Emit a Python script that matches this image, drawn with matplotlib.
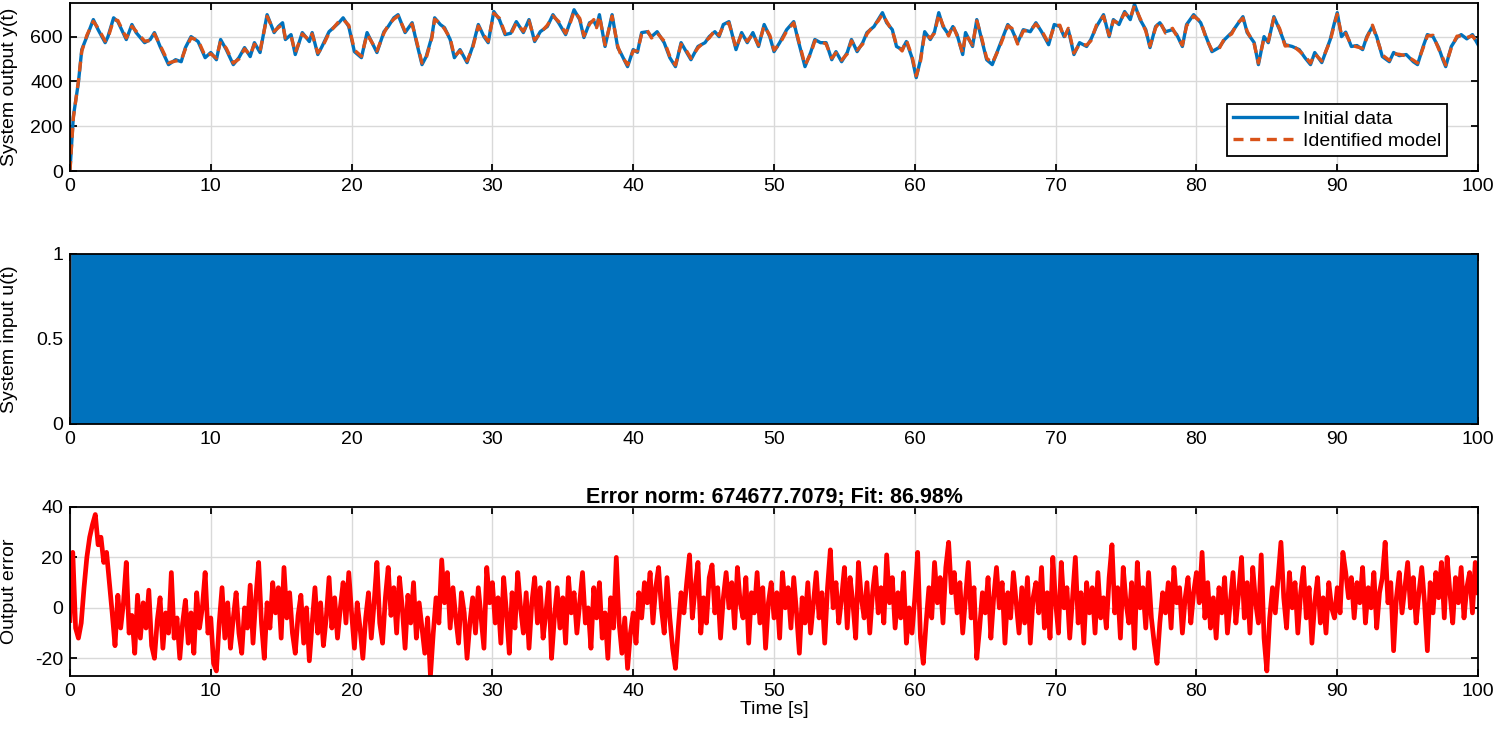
import numpy as np
import matplotlib.pyplot as plt
from matplotlib.ticker import FuncFormatter

plt.rcParams["font.family"] = ["Liberation Sans", "DejaVu Sans"]
plt.rcParams["font.size"] = 14
plt.rcParams["axes.unicode_minus"] = False

# ---- data ------------------------------------------------------------------
# output y(t): times [s] and values
t_y = [0.0, 0.24, 0.6, 0.84, 1.2, 1.66, 2.0, 2.5, 2.7, 3.1, 3.4, 4.0, 4.4, 4.7,
       5.3, 5.7, 6.0, 6.4, 7.0, 7.5, 7.9, 8.2, 8.6, 9.1, 9.6, 10.0, 10.4, 10.7,
       11.1, 11.6, 12.0, 12.4, 12.8, 13.1, 13.5, 14.0, 14.5, 14.8, 15.1, 15.3,
       15.7, 16.0, 16.5, 17.0, 17.2, 17.6, 17.9, 18.4, 19.1, 19.4, 19.8, 20.2,
       20.7, 21.1, 21.8, 22.3, 22.6, 23.0, 23.3, 23.8, 24.3, 24.6, 25.0, 25.3,
       25.7, 25.9, 26.3, 26.6, 27.0, 27.3, 27.7, 28.2, 28.6, 29.0, 29.4, 29.7,
       30.1, 30.5, 30.9, 31.3, 31.7, 32.2, 32.6, 33.0, 33.4, 33.9, 34.3, 34.7,
       35.2, 35.5, 35.8, 36.2, 36.5, 36.9, 37.2, 37.4, 37.6, 38.0, 38.5, 38.9,
       39.1, 39.6, 40.0, 40.3, 40.6, 41.0, 41.3, 41.7, 42.2, 42.6, 43.0, 43.4,
       43.8, 44.1, 44.6, 45.1, 45.4, 45.8, 46.1, 46.4, 46.8, 47.3, 47.7, 48.1,
       48.5, 48.9, 49.3, 49.7, 50.0, 50.4, 50.9, 51.4, 51.7, 52.2, 52.6, 52.9,
       53.3, 53.7, 54.1, 54.4, 54.8, 55.2, 55.5, 55.9, 56.3, 56.6, 57.1, 57.4,
       57.7, 58.0, 58.4, 58.7, 59.1, 59.4, 59.8, 60.1, 60.4, 60.7, 61.1, 61.4,
       61.7, 62.0, 62.4, 62.7, 63.0, 63.4, 63.6, 64.1, 64.4, 64.7, 65.1, 65.5,
       66.0, 66.6, 66.9, 67.3, 67.7, 68.2, 68.6, 69.0, 69.5, 69.9, 70.3, 70.6,
       70.9, 71.3, 71.7, 72.2, 72.5, 72.9, 73.4, 73.8, 74.1, 74.5, 74.9, 75.3,
       75.6, 76.0, 76.4, 76.7, 77.1, 77.4, 77.8, 78.3, 78.6, 79.0, 79.3, 79.8,
       80.3, 80.7, 81.1, 81.6, 82.0, 82.5, 82.9, 83.3, 83.6, 84.1, 84.4, 84.8,
       85.1, 85.5, 85.9, 86.3, 86.8, 87.3, 87.7, 88.1, 88.4, 88.9, 89.5, 89.8,
       90.0, 90.3, 90.6, 91.0, 91.4, 91.8, 92.1, 92.5, 92.8, 93.2, 93.7, 94.0,
       94.4, 94.9, 95.4, 95.7, 96.1, 96.4, 96.8, 97.2, 97.5, 97.7, 98.1, 98.5,
       98.8, 99.2, 99.6, 100.0]
y_data = [0, 243, 395, 542, 600, 676, 631, 573, 600, 684, 667, 587, 654, 618,
          573, 587, 618, 556, 475, 497, 488, 551, 600, 578, 506, 529, 497, 587,
          542, 475, 506, 551, 511, 573, 529, 698, 618, 645, 662, 587,
          609, 520, 618, 578, 618, 520, 556, 622, 662, 684, 645, 533,
          506, 618, 529, 622, 645, 684, 698, 618, 662, 578, 475, 511,
          600, 684, 654, 640, 587, 506, 542, 484, 556, 654, 600, 573,
          712, 676, 609, 615, 667, 618, 676, 578, 622, 645, 698, 662,
          609, 662, 720, 676, 596, 662, 670, 645, 698, 556, 698, 551,
          529, 466, 542, 530, 618, 622, 600, 622, 573, 506, 466, 573,
          529, 497, 556, 573, 600, 622, 600, 654, 667, 542, 618, 573,
          618, 556, 654, 600, 533, 573, 631, 667, 587, 466, 529, 587,
          573, 573, 497, 533, 488, 529, 587, 533, 573, 618, 645, 676,
          707, 662, 631, 556, 542, 578, 506, 417, 497, 622, 587, 622,
          707, 645, 609, 645, 609, 520, 618, 556, 676, 600, 497, 475,
          556, 654, 631, 573, 631, 622, 662, 622, 564, 654, 645, 600,
          631, 520, 573, 556, 587, 645, 698, 600, 676, 654, 712, 676,
          745, 676, 631, 551, 645, 662, 622, 631, 609, 556, 654, 698,
          662, 596, 533, 551, 587, 618, 654, 689, 618, 573, 475, 600,
          573, 689, 631, 564, 556, 542, 506, 475, 529, 484, 587, 662,
          707, 600, 620, 556, 560, 542, 600, 645, 600, 511, 488, 529,
          515, 520, 488, 475, 556, 609, 600, 551, 497, 466, 556, 596,
          609, 590, 609, 564]
y_model = [0, 236, 402, 535, 606, 668, 638, 580, 594, 676, 672, 594, 646, 624,
           580, 582, 612, 562, 483, 491, 494, 545, 594, 584, 513, 523, 504, 580,
           548, 482, 500, 545, 518, 566, 536, 690, 624, 640, 655, 594,
           603, 528, 612, 584, 612, 527, 550, 616, 668, 677, 651, 540,
           512, 611, 536, 616, 651, 678, 692, 624, 656, 584, 482, 505,
           594, 677, 660, 634, 593, 513, 536, 491, 550, 647, 606, 579,
           704, 682, 615, 610, 661, 624, 670, 584, 616, 651, 692, 668,
           615, 656, 713, 682, 603, 656, 676, 640, 692, 563, 691, 558,
           523, 474, 536, 536, 611, 628, 594, 616, 580, 512, 473, 566,
           535, 503, 550, 579, 594, 628, 606, 648, 661, 549, 612, 579,
           612, 562, 648, 606, 540, 567, 625, 661, 594, 473, 523, 581,
           579, 567, 504, 527, 495, 523, 581, 540, 567, 612, 651, 670,
           700, 668, 625, 563, 536, 584, 513, 425, 490, 615, 593, 616,
           700, 651, 603, 651, 603, 527, 612, 562, 670, 606, 504, 482,
           550, 648, 637, 567, 625, 628, 656, 628, 570, 648, 651, 594,
           637, 527, 567, 562, 581, 651, 691, 606, 670, 660, 705, 682,
           738, 682, 625, 558, 639, 668, 616, 637, 603, 562, 648, 691,
           668, 590, 540, 545, 593, 612, 660, 682, 624, 567, 482, 594,
           579, 683, 637, 558, 562, 536, 513, 482, 523, 491, 581, 656,
           700, 606, 614, 562, 554, 548, 594, 651, 594, 518, 494, 523,
           521, 514, 495, 482, 550, 603, 606, 545, 504, 473, 550, 602,
           603, 596, 603, 570]

# input u(t): binary excitation, one bit per sample
u_bits = (
    "0110100110010110100101100110100110010110011010010110100110010110"
    "1001011001101001011010011001011001101001100101101001011001101001"
    "1001011001101001011010011001011001101001100101101001011001101001"
    "0110100110010110100101100110100110010110011010010110100110010110"
    "1001011001101001011010011001011001101001100101101001011001101001"
    "0110100110010110100101100110100110010110011010010110100110010110"
    "0110100110010110100101100110100110010110011010010110100110010110"
    "1001011001101001011010011001011001101001100101101001011001101001"
    "1001011001101001011010011001011001101001100101101001011001101001"
    "0110100110010110100101100110100110010110011010010110100110010110"
    "0110100110010110100101100110100110010110011010010110100110010110"
    "1001011001101001011010011001011001101001100101101001011001101001"
    "0110100110010110100101100110100110010110011010010110100110010110"
    "1001011001101001011010011001011001101001100101101001011001101001"
    "1001011001101001011010011001011001101001100101101001011001101001"
    "0110100110010110100101100110100110010110011010010110100110010110"
)

# output error, sampled every 0.2 s
err_dt = 0.2
err = [
    -5, 22, -8, -12, -6, 8, 20, 28, 33, 37, 25, 28, 18, 22, 10, -2, -15, 5, -8, 2,
    18, -10, -3, -18, 5, -12, 2, -8, 7, -15, -20, -5, 4, -16, -2, -10, 14, -12, -4, -20,
    -6, 3, -14, -2, -18, 6, -8, 0, 14, -10,
    -4, -22, -25, -6, 8, -12, 2, -16, -4, 6, -10, -18, 0, -8, 9, -14, 4, 18, -6, -20,
    2, -8, 10, -2, 8, -12, 16, -4, 6, -10, -18, -3, 5, -14, 0, -21, -6, 8, -10, 2,
    -15, -4, 12, -8, 4, -12, 0, 10, -6, 14,
    -2, -16, 2, -8, -20, -4, 6, -12, 2, 18, -6, -14, 4, 16, -3, 8, -10, 12, 0, -16,
    5, -6, 10, -12, 2, -8, -18, -4, -27, -10, 4, -6, 19, 2, 14, -8, 8, -4, -14, 6,
    -2, -20, -6, 4, -10, 8, -4, -16, 16, 2,
    10, -6, 4, -14, 12, -2, -18, 6, -8, 14, 0, -10, 6, -16, 2, 12, -6, 8, -12, -2,
    10, -20, -4, 8, -8, 4, -14, 12, -2, 6, -10, 2, 14, -6, 0, -16, 8, -4, 10, -12,
    -2, -20, 4, -8, 20, -6, -18, -4, -24, -10,
    -2, -14, 6, -4, 10, 2, 14, -6, 8, 16, 0, -10, 12, -4, -16, -24, -8, 6, -2, 10,
    21, -4, 8, 18, -10, 4, -6, 12, 17, -2, 8, -12, 4, 14, 0, 10, -8, 16, 2, -4,
    12, -14, 6, -2, 14, -6, 8, -16, 2, 10,
    -4, 6, -12, 14, 0, 8, -8, 12, -2, -18, 4, -6, 10, -10, 2, 14, -4, 6, -14, 8,
    23, 0, 10, -6, 4, 16, -8, 12, 2, -12, 18, 4, -4, 10, -10, 6, 16, -2, 8, -6,
    21, 2, 12, -8, 6, -4, 14, -14, 0, -10,
    4, 22, -12, -22, -6, 8, -4, 18, 2, 12, -6, 16, 26, 6, 14, -2, 10, -10, 4, 18,
    -4, 8, -20, -8, 6, -2, 12, -12, 4, 16, 0, 10, -14, 6, -4, 14, 2, -10, 8, -6,
    12, -14, 4, 10, -2, 16, -8, 6, -12, 20,
    2, -10, 18, 0, 8, -12, 4, 20, -6, 6, -14, 10, -2, 8, -10, 14, -4, 4, -8, 12,
    25, -2, 8, -12, 16, 2, -6, 10, -16, 18, 0, 8, -8, 14, -4, -14, -22, -6, 6, -2,
    10, -8, 16, 2, 8, -10, 4, 12, -6, 6,
    14, 2, 22, -4, 10, -8, 4, -12, 8, -2, 12, -10, 2, 14, -6, 6, 20, -4, 10, -10,
    16, 2, -6, 21, -12, -25, -4, 8, -2, 12, 26, 4, -8, 14, 0, 10, -10, 6, 16, -4,
    8, -14, 2, 12, -6, 4, -10, 10, 0, -4,
    8, -2, 22, 14, 4, 12, -4, 10, 2, 16, -6, 8, 0, 14, -8, 6, 12, 26, 2, 10,
    -17, 4, 14, -2, 8, 18, 0, 12, -6, 6, 16, 2, -17, 10, -2, 14, 4, 18, -4, 20,
    6, -6, 12, 2, 16, -4, 8, 14, -2, 18, 6,
]

err_title = "Error norm: 674677.7079; Fit: 86.98%"

BLUE = "#0072BD"
ORANGE = "#D95319"


def style_axes(ax, yticks, ylim):
    ax.set_xlim(0, 100)
    ax.set_ylim(*ylim)
    ax.set_xticks(np.arange(0, 101, 10))
    ax.set_yticks(yticks)
    ax.grid(True, color="#d9d9d9", linewidth=1.0)
    ax.set_axisbelow(True)
    ax.tick_params(direction="in", length=5, width=1.3, top=True, right=True,
                   labelsize=14, pad=5)
    for s in ax.spines.values():
        s.set_linewidth(1.3)


fig = plt.figure(figsize=(14.98, 7.39), dpi=100)
ax1 = fig.add_axes([0.0467, 0.7686, 0.9400, 0.2273])
ax2 = fig.add_axes([0.0467, 0.4263, 0.9400, 0.2300])
ax3 = fig.add_axes([0.0467, 0.0853, 0.9400, 0.2287])

# top: output and model
ax1.plot(t_y, y_data, color=BLUE, lw=2.4, label="Initial data")
ax1.plot(t_y, y_model, color=ORANGE, lw=2.4, ls=(0, (3, 2)), label="Identified model")
style_axes(ax1, [0, 200, 400, 600], (0, 750))
ax1.set_ylabel("System output y(t)")
leg = ax1.legend(loc="lower right", bbox_to_anchor=(0.978, 0.09), fancybox=False,
                 edgecolor="black", framealpha=1, fontsize=14, handlelength=3.3,
                 handletextpad=0.3, borderpad=0.3, labelspacing=0.25,
                 borderaxespad=0)
leg.get_frame().set_linewidth(1.3)

# middle: binary input
u = np.array([int(b) for b in u_bits])
t_u = np.linspace(0, 100, len(u))
ax2.step(t_u, u, where="post", color=BLUE, lw=2.2)
ax2.axvline(0, color=ORANGE, lw=1.0)
style_axes(ax2, [0, 0.5, 1], (0, 1))
ax2.yaxis.set_major_formatter(FuncFormatter(lambda v, p: f"{v:g}"))
ax2.set_ylabel("System input u(t)")

# bottom: output error
t_e = np.arange(len(err)) * err_dt
ax3.plot(t_e, err, color="red", lw=3.4)
style_axes(ax3, [-20, 0, 20, 40], (-27, 40))
ax3.set_ylabel("Output error")
ax3.set_xlabel("Time [s]", labelpad=1)
ax3.set_title(err_title, fontsize=15.5, fontweight="bold", pad=3)

for ax in (ax1, ax2, ax3):
    ax.yaxis.set_label_coords(-0.037, 0.5)

fig.savefig("out.png", dpi=100)
